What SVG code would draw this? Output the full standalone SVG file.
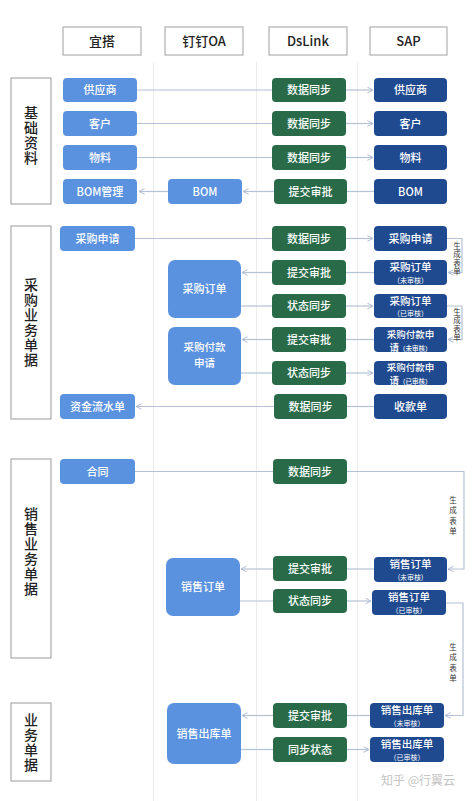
<svg xmlns="http://www.w3.org/2000/svg" width="474" height="801" viewBox="0 0 474 801">
<defs>
<marker id="ah" viewBox="0 0 10 10" refX="9" refY="5" markerWidth="7" markerHeight="7" orient="auto" markerUnits="userSpaceOnUse">
<path d="M1,1 L9,5 L1,9" fill="none" stroke="#aebbd2" stroke-width="1.4"/>
</marker>
<style>
text{font-family:"Noto Sans CJK SC","Liberation Sans",sans-serif;}
.hdr{fill:#fff;stroke:#a0a0a0;stroke-width:1}
.sec{fill:#fff;stroke:#999;stroke-width:1}
.lt{fill:#5b92df}
.gr{fill:#296b49}
.db{fill:#1f4a8f}
.t{fill:#fff;font-size:11px;font-weight:500;text-anchor:middle}
.m{fill:#fff;font-size:10.5px;font-weight:500;text-anchor:middle}
.t2{fill:#fff;font-size:9.5px;font-weight:500;text-anchor:middle}
.s{fill:#fff;font-size:7px;text-anchor:middle}
.h{fill:#222;font-size:13px;font-weight:500;text-anchor:middle}
.v{fill:#222;font-size:14px;font-weight:500;writing-mode:vertical-rl;letter-spacing:1px}
.g{fill:#333;font-size:7.5px;writing-mode:vertical-rl;letter-spacing:1px}
.lane{stroke:#ececec;stroke-width:1}
.c{fill:none;stroke:#b5c1d6;stroke-width:1.2}
.ca{fill:none;stroke:#b5c1d6;stroke-width:1.2;marker-end:url(#ah)}
</style>
</defs>
<rect width="474" height="801" fill="#fff"/>
<g id="lanes">
<line class="lane" x1="153.5" y1="62" x2="153.5" y2="801"/>
<line class="lane" x1="256.5" y1="62" x2="256.5" y2="801"/>
<line class="lane" x1="357.5" y1="62" x2="357.5" y2="801"/>
</g>
<g id="headers">
<g id="h-yida"><rect class="hdr" x="63" y="27" width="78" height="28"/><text class="h" x="102" y="46">宜搭</text></g>
<g id="h-dd"><rect class="hdr" x="165" y="27" width="78" height="28"/><text class="h" x="204" y="46">钉钉OA</text></g>
<g id="h-ds"><rect class="hdr" x="269" y="27" width="78" height="28"/><text class="h" x="308" y="46">DsLink</text></g>
<g id="h-sap"><rect class="hdr" x="370" y="27" width="77" height="28"/><text class="h" x="408.5" y="46">SAP</text></g>
</g>
<g id="sections">
<g id="sec1"><rect class="sec" x="11" y="78" width="40" height="126"/><text class="v" x="31" y="106">基础资料</text></g>
<g id="sec2"><rect class="sec" x="11" y="226" width="40" height="193"/><text class="v" x="31" y="278">采购业务单据</text></g>
<g id="sec3"><rect class="sec" x="11" y="459" width="40" height="199"/><text class="v" x="31" y="507">销售业务单据</text></g>
<g id="sec4"><rect class="sec" x="11" y="703" width="40" height="78"/><text class="v" x="31" y="713">业务单据</text></g>
</g>
<g id="connectors">
<path class="c" d="M137,90 H272"/><path class="ca" d="M346,90 H373"/>
<path class="c" d="M137,123.5 H272"/><path class="ca" d="M346,123.5 H373"/>
<path class="c" d="M137,157.5 H272"/><path class="ca" d="M346,157.5 H373"/>
<path class="c" d="M374,191.5 H347"/><path class="ca" d="M274,191.5 H243"/><path class="ca" d="M168,191.5 H139"/>
<path class="c" d="M135,238.5 H272"/><path class="ca" d="M346,238.5 H373"/>
<path class="c" d="M374,272.5 H346"/><path class="ca" d="M272,272.5 H242"/>
<path class="c" d="M241,306 H272"/><path class="ca" d="M346,306 H373"/>
<path class="c" d="M374,339.5 H346"/><path class="ca" d="M272,339.5 H242"/>
<path class="c" d="M241,373 H272"/><path class="ca" d="M346,373 H373"/>
<path class="c" d="M374,406.5 H347"/><path class="ca" d="M274,406.5 H136"/>
<path class="ca" d="M447,238.5 H462 V272.5 H448"/>
<path class="ca" d="M447,306 H462 V339.5 H448"/>
<path class="c" d="M135,471.5 H273"/><path class="ca" d="M347,471.5 H464 V569 H448"/>
<path class="c" d="M374,569 H347"/><path class="ca" d="M273,569 H241"/>
<path class="c" d="M240,601 H273"/><path class="ca" d="M347,601 H371"/>
<path class="ca" d="M446,603 H463 V715.5 H445"/>
<path class="c" d="M370,715.5 H347"/><path class="ca" d="M273,715.5 H242"/>
<path class="c" d="M241,749.5 H273"/><path class="ca" d="M347,749.5 H369"/>
<g id="conn-labels">
<rect x="453" y="241" width="8" height="30" fill="#fff"/>
<text class="g" x="457" y="242">生成表单</text>
<rect x="453" y="308" width="8" height="30" fill="#fff"/>
<text class="g" x="457" y="308">生成表单</text>
<text class="g" x="453" y="496" style="letter-spacing:3px">生成表单</text>
<text class="g" x="453" y="643" style="letter-spacing:3px">生成表单</text>
</g>
</g>
<g id="n-gys-yd"><rect class="lt" x="63" y="78" width="74" height="24" rx="4"/><text class="t" x="100" y="94">供应商</text></g>
<g id="n-sync1"><rect class="gr" x="272" y="78" width="74" height="24" rx="4"/><text class="t" x="309" y="94">数据同步</text></g>
<g id="n-gys-sap"><rect class="db" x="374" y="78" width="73" height="24" rx="4"/><text class="t" x="410.5" y="94">供应商</text></g>
<g id="n-kh-yd"><rect class="lt" x="63" y="111" width="74" height="25" rx="4"/><text class="t" x="100" y="127.5">客户</text></g>
<g id="n-sync2"><rect class="gr" x="272" y="111" width="74" height="25" rx="4"/><text class="t" x="309" y="127.5">数据同步</text></g>
<g id="n-kh-sap"><rect class="db" x="374" y="111" width="73" height="25" rx="4"/><text class="t" x="410.5" y="127.5">客户</text></g>
<g id="n-wl-yd"><rect class="lt" x="63" y="145" width="74" height="25" rx="4"/><text class="t" x="100" y="161.5">物料</text></g>
<g id="n-sync3"><rect class="gr" x="272" y="145" width="74" height="25" rx="4"/><text class="t" x="309" y="161.5">数据同步</text></g>
<g id="n-wl-sap"><rect class="db" x="374" y="145" width="73" height="25" rx="4"/><text class="t" x="410.5" y="161.5">物料</text></g>
<g id="n-bom-yd"><rect class="lt" x="63" y="179" width="74" height="25" rx="4"/><text class="t" x="100" y="195.5">BOM管理</text></g>
<g id="n-bom-dd"><rect class="lt" x="168" y="179" width="74" height="25" rx="4"/><text class="t" x="205" y="195.5">BOM</text></g>
<g id="n-submit1"><rect class="gr" x="274" y="179" width="73" height="25" rx="4"/><text class="t" x="310.5" y="195.5">提交审批</text></g>
<g id="n-bom-sap"><rect class="db" x="374" y="179" width="73" height="25" rx="4"/><text class="t" x="410.5" y="195.5">BOM</text></g>
<g id="n-cgsq-yd"><rect class="lt" x="60" y="226" width="75" height="25" rx="4"/><text class="t" x="97.5" y="242.5">采购申请</text></g>
<g id="n-sync4"><rect class="gr" x="272" y="226" width="74" height="25" rx="4"/><text class="t" x="309" y="242.5">数据同步</text></g>
<g id="n-cgsq-sap"><rect class="db" x="374" y="226" width="73" height="25" rx="4"/><text class="t" x="410.5" y="242.5">采购申请</text></g>
<g id="n-cgdd-dd"><rect class="lt" x="168" y="260" width="73" height="58" rx="7"/><text class="t" x="204.5" y="293">采购订单</text></g>
<g id="n-submit2"><rect class="gr" x="272" y="260" width="74" height="25" rx="4"/><text class="t" x="309" y="276.5">提交审批</text></g>
<g id="n-cgdd-sap1"><rect class="db" x="374" y="260" width="73" height="25" rx="4"/><text class="m" x="410.5" y="271">采购订单</text><text class="s" x="410.5" y="282.5">（未审核）</text></g>
<g id="n-state1"><rect class="gr" x="272" y="294" width="74" height="24" rx="4"/><text class="t" x="309" y="310">状态同步</text></g>
<g id="n-cgdd-sap2"><rect class="db" x="374" y="294" width="73" height="24" rx="4"/><text class="m" x="410.5" y="304.5">采购订单</text><text class="s" x="410.5" y="316">（已审核）</text></g>
<g id="n-cgfk-dd"><rect class="lt" x="168" y="327" width="73" height="58" rx="7"/><text class="m" x="204.5" y="351">采购付款</text><text class="m" x="204.5" y="366.5">申请</text></g>
<g id="n-submit3"><rect class="gr" x="272" y="327" width="74" height="25" rx="4"/><text class="t" x="309" y="343.5">提交审批</text></g>
<g id="n-cgfk-sap1"><rect class="db" x="374" y="327" width="73" height="25" rx="4"/><text class="t2" x="410.5" y="337.5">采购付款申</text><text x="410.5" y="350.5" text-anchor="middle" fill="#fff" font-weight="500"><tspan font-size="9.5">请</tspan><tspan font-size="6.5">（未审核）</tspan></text></g>
<g id="n-state2"><rect class="gr" x="272" y="361" width="74" height="24" rx="4"/><text class="t" x="309" y="377">状态同步</text></g>
<g id="n-cgfk-sap2"><rect class="db" x="374" y="361" width="73" height="24" rx="4"/><text class="t2" x="410.5" y="370.5">采购付款申</text><text x="410.5" y="383.5" text-anchor="middle" fill="#fff" font-weight="500"><tspan font-size="9.5">请</tspan><tspan font-size="6.5">（已审核）</tspan></text></g>
<g id="n-zjls-yd"><rect class="lt" x="60" y="394" width="75" height="25" rx="4"/><text class="t" x="97.5" y="410.5">资金流水单</text></g>
<g id="n-sync5"><rect class="gr" x="274" y="394" width="73" height="25" rx="4"/><text class="t" x="310.5" y="410.5">数据同步</text></g>
<g id="n-skd-sap"><rect class="db" x="374" y="394" width="73" height="25" rx="4"/><text class="t" x="410.5" y="410.5">收款单</text></g>
<g id="n-ht-yd"><rect class="lt" x="60" y="459" width="75" height="25" rx="4"/><text class="t" x="97.5" y="475.5">合同</text></g>
<g id="n-sync6"><rect class="gr" x="273" y="459" width="74" height="25" rx="4"/><text class="t" x="310" y="475.5">数据同步</text></g>
<g id="n-xsdd-dd"><rect class="lt" x="166" y="558" width="74" height="58" rx="7"/><text class="t" x="203" y="591">销售订单</text></g>
<g id="n-submit4"><rect class="gr" x="273" y="556" width="74" height="25" rx="4"/><text class="t" x="310" y="572.5">提交审批</text></g>
<g id="n-xsdd-sap1"><rect class="db" x="374" y="557" width="73" height="25" rx="4"/><text class="m" x="410.5" y="568">销售订单</text><text class="s" x="410.5" y="579.5">(未审核)</text></g>
<g id="n-state3"><rect class="gr" x="273" y="589" width="74" height="24" rx="4"/><text class="t" x="310" y="605">状态同步</text></g>
<g id="n-xsdd-sap2"><rect class="db" x="372" y="590" width="74" height="25" rx="4"/><text class="m" x="409" y="601">销售订单</text><text class="s" x="409" y="612.5">（已审核）</text></g>
<g id="n-xsck-dd"><rect class="lt" x="167" y="703" width="74" height="61" rx="7"/><text class="t" x="204" y="737.5">销售出库单</text></g>
<g id="n-submit5"><rect class="gr" x="273" y="703" width="74" height="25" rx="4"/><text class="t" x="310" y="719.5">提交审批</text></g>
<g id="n-xsck-sap1"><rect class="db" x="370" y="703" width="74" height="25" rx="4"/><text class="m" x="407" y="714">销售出库单</text><text class="s" x="407" y="725.5">（未审核）</text></g>
<g id="n-state4"><rect class="gr" x="273" y="737" width="74" height="25" rx="4"/><text class="t" x="310" y="753.5">同步状态</text></g>
<g id="n-xsck-sap2"><rect class="db" x="370" y="737" width="74" height="25" rx="4"/><text class="m" x="407" y="748">销售出库单</text><text class="s" x="407" y="759.5">（已审核）</text></g>
<text x="418" y="785" text-anchor="middle" font-size="12" fill="#c4c4c4" style="font-family:'Noto Sans CJK SC',sans-serif">知乎 @行翼云</text>
</svg>
